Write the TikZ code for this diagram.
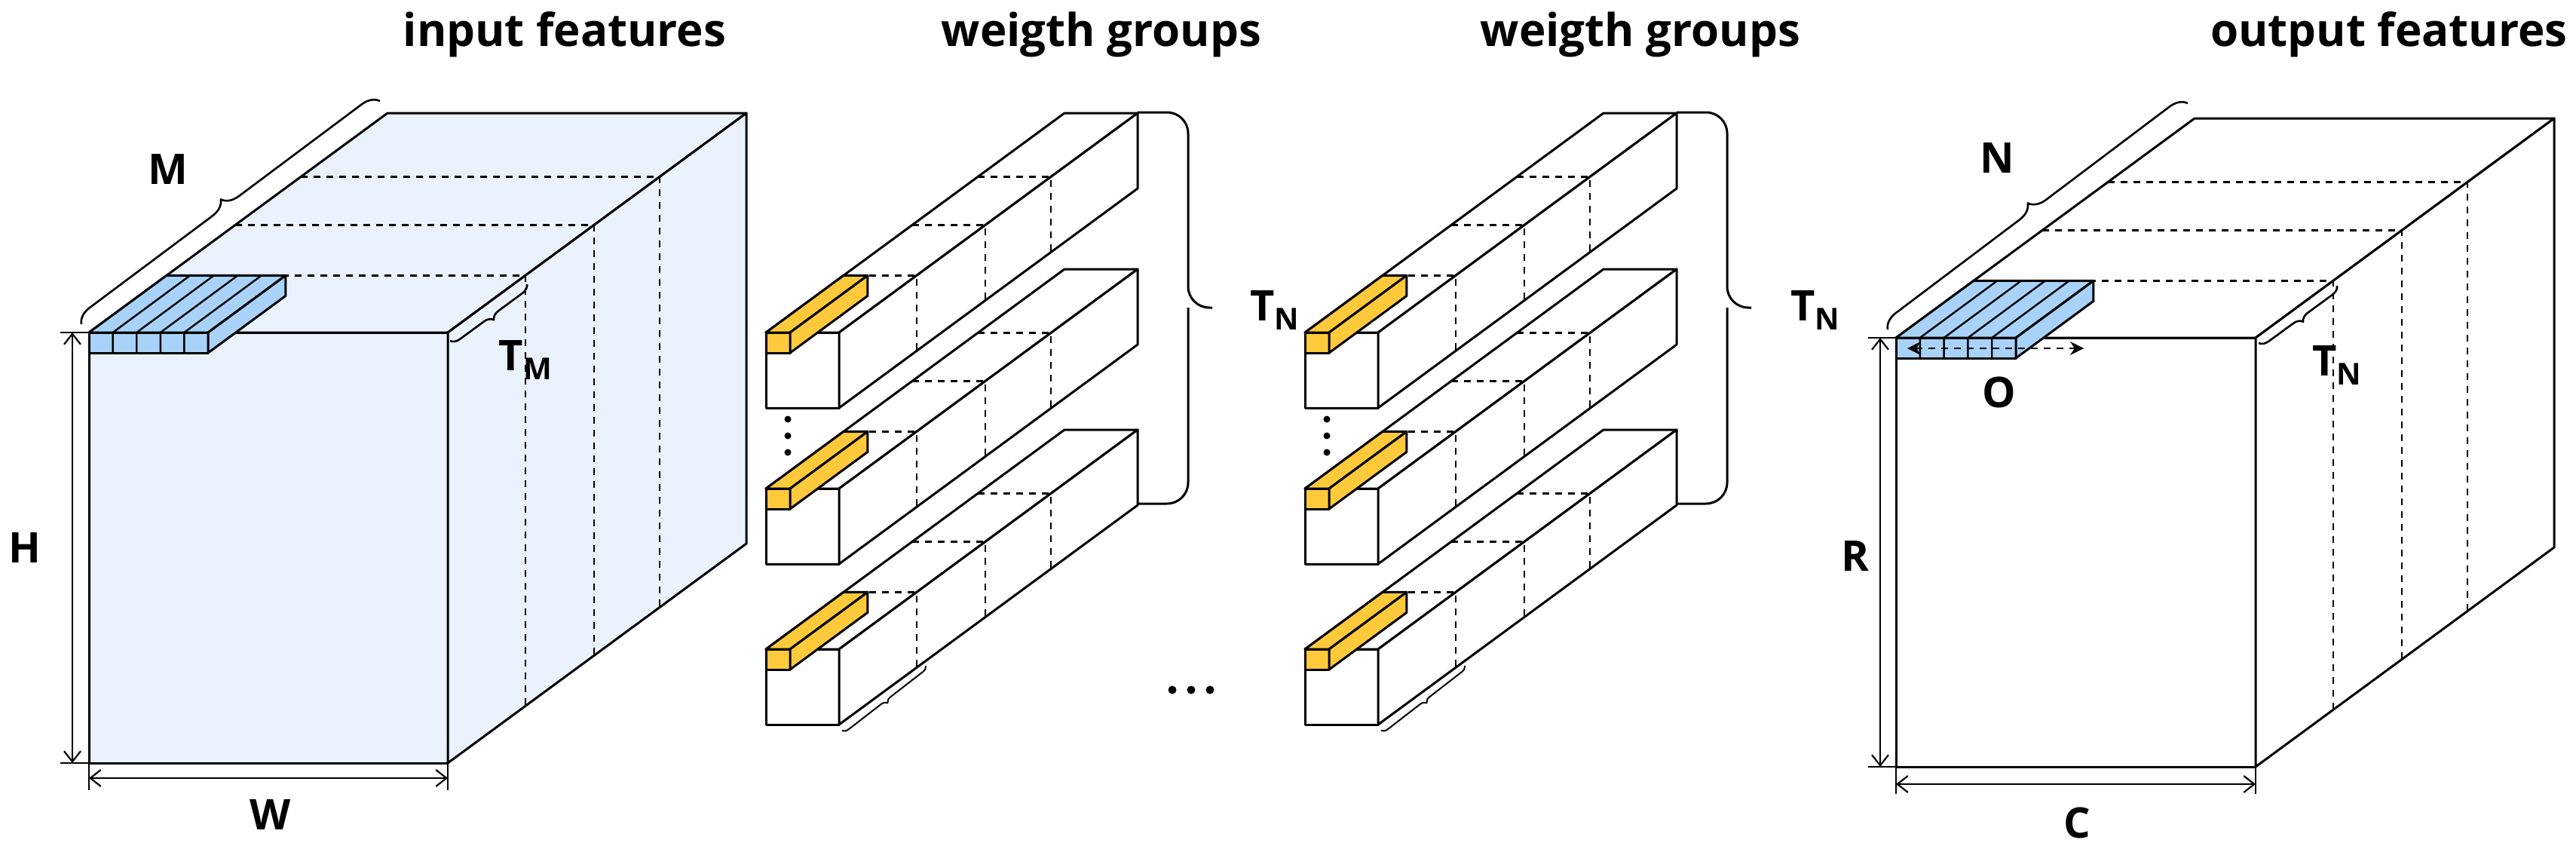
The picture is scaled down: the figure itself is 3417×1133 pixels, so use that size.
\documentclass[tikz,border=0pt]{standalone}
\usepackage{fontspec}
\setmainfont{Open Sans}
\usetikzlibrary{arrows.meta,calc,decorations.pathreplacing}
\definecolor{cubeblue}{HTML}{EAF2FD}
\definecolor{slabblue}{HTML}{A8D2F8}
\definecolor{wyellow}{HTML}{FFC93C}
\newcommand\cuboid[6]{%
 \filldraw[fill=#5] (#1,-#2) rectangle ++(#3,-#4);
 \filldraw[fill=#5] (#1,-#2) -- ++(#6*396,#6*291) -- ++(#3,0) -- ++(-#6*396,-#6*291) -- cycle;
 \filldraw[fill=#5] (#1+#3,-#2) -- ++(#6*396,#6*291) -- ++(0,-#4) -- ++(-#6*396,-#6*291) -- cycle;}
\newcommand\tiles[4]{% x,y,w,h : dashed slices
 \foreach \f in {0.26,0.49,0.71}{\draw[dsh] ($(#1,-#2)+\f*(396,291)$) -- ++(#3,0) -- ++(0,-#4);}}
\tikzset{
 x=1pt,y=1pt,
 every path/.style={line width=3pt, line join=round},
 dsh/.style={dashed, line width=2.4pt, dash pattern=on 9pt off 8pt},
 lbl/.style={font=\fontsize{56}{60}\selectfont\bfseries, inner sep=0pt},
 ttl/.style={font=\fontsize{60}{70}\selectfont\bfseries, inner sep=0pt, anchor=base},
 dimarrow/.style={line width=2.2pt, {Straight Barb[length=14pt,width=22pt]}-{Straight Barb[length=14pt,width=22pt]}},
 tick/.style={line width=2.2pt},
 bracedec/.style={decorate, decoration={brace, amplitude=#1}, line width=2.6pt},
}
\newcommand\sub[1]{{\fontsize{40}{40}\selectfont\raisebox{-0.3em}{#1}}}
\begin{document}
\begin{tikzpicture}
\useasboundingbox (0,0) rectangle (3417,-1133);
% titles
\node[ttl] (t1) at (749,-61) {input features};
\node[ttl] (t2) at (1461,-61) {weigth groups};
\node[ttl] (t3) at (2176,-61) {weigth groups};
\node[ttl] (t4) at (3169,-61) {output features};
% ===== input cube
\cuboid{118}{441}{476}{571}{cubeblue}{1}
\tiles{118}{441}{476}{571}
\cuboid{118}{441}{158}{27}{slabblue}{0.26}
\foreach \i in {1,...,4}{\draw[line width=2.4pt] (118+\i*31.6,-441) -- ++(0,-27) (118+\i*31.6,-441) -- ++(103,76);}
\draw[bracedec=22] (108,-430) -- (504,-134);
\node[lbl] (M) at (223,-225) {M};
\draw[bracedec=12] (699,-377) -- (597,-452);
\node[lbl] (TM) at (697,-478) {T\sub{M}};
\coordinate (h1) at (96,-441); \coordinate (h2) at (96,-1012);
\draw[tick] (80,-441) -- (118,-441) (80,-1012) -- (118,-1012);
\draw[dimarrow] (h1) -- (h2);
\node[lbl] (H) at (33,-726) {H};
\coordinate (w1) at (118,-1032); \coordinate (w2) at (594,-1032);
\draw[tick] (118,-1012) -- (118,-1048) (594,-1012) -- (594,-1048);
\draw[dimarrow] (w1) -- (w2);
\node[lbl] (W) at (359,-1080) {W};
% ===== weight groups
\foreach \gx/\tn in {1016/1691,1731/2408}{
 \foreach \ty in {441,648,861}{
  \cuboid{\gx}{\ty}{97}{100}{white}{1}
  \tiles{\gx}{\ty}{97}{100}
  \cuboid{\gx}{\ty}{32}{27}{wyellow}{0.26}
 }
 \foreach \dy in {556,578,600}{\fill (\gx+29,-\dy) circle (4.5);}
 \draw[bracedec=8, line width=2pt] (\gx+212,-883) -- (\gx+101,-969);
 \draw[rounded corners=28] (\gx+493,-149) -- (\gx+560,-149) -- (\gx+560,-408) -- (\gx+592,-408);
 \draw[rounded corners=28] (\gx+493,-668) -- (\gx+560,-668) -- (\gx+560,-408);
 \node[lbl] at (\tn,-412) {T\sub{N}};
}
\foreach \dx in {1555,1580,1605}{\fill (\dx,-915) circle (5.5);}
% ===== output cube
\cuboid{2515}{448}{477}{569}{white}{1}
\tiles{2515}{448}{477}{569}
\cuboid{2515}{448}{159}{27}{slabblue}{0.26}
\foreach \i in {1,...,4}{\draw[line width=2.4pt] (2515+\i*31.8,-448) -- ++(0,-27) (2515+\i*31.8,-448) -- ++(103,76);}
\coordinate (o1) at (2530,-462); \coordinate (o2) at (2764,-462);
\draw[dsh, line width=2.2pt, {Stealth[length=18pt,width=18pt]}-{Stealth[length=18pt,width=18pt]}] (o1) -- (o2);
\node[lbl] (O) at (2652,-520) {O};
\draw[bracedec=22] (2504,-437) -- (2902,-137);
\node[lbl] (N) at (2649,-210) {N};
\draw[bracedec=12] (3100,-379) -- (2996,-455);
\node[lbl] (TN3) at (3100,-485) {T\sub{N}};
\coordinate (r1) at (2494,-448); \coordinate (r2) at (2494,-1017);
\draw[tick] (2478,-448) -- (2515,-448) (2478,-1017) -- (2515,-1017);
\draw[dimarrow] (r1) -- (r2);
\node[lbl] (R) at (2461,-737) {R};
\coordinate (c1) at (2515,-1040); \coordinate (c2) at (2992,-1040);
\draw[tick] (2515,-1017) -- (2515,-1053) (2992,-1017) -- (2992,-1053);
\draw[dimarrow] (c1) -- (c2);
\node[lbl] (C) at (2755,-1091) {C};
\end{tikzpicture}
\end{document}
